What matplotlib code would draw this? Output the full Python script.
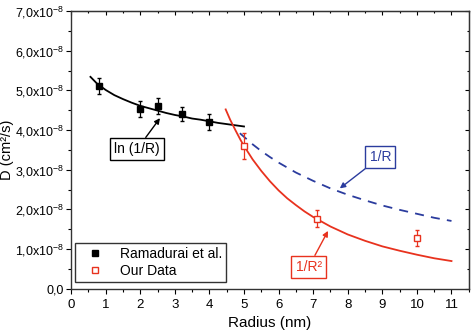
import matplotlib
matplotlib.use("Agg")
import matplotlib.pyplot as plt
from matplotlib.lines import Line2D
from matplotlib.ticker import MultipleLocator, FuncFormatter

plt.rcParams['font.family'] = ['Liberation Sans', 'DejaVu Sans']

# Ramadurai et al. (black squares), D in units of 1e-8 cm^2/s
ram_r = [0.8, 2.0, 2.5, 3.2, 4.0]
ram_d = [5.12, 4.52, 4.61, 4.40, 4.21]
ram_err = [0.2, 0.2, 0.2, 0.18, 0.2]

# our data (open red squares)
our_r = [5.0, 7.1, 10.0]
our_d = [3.60, 1.77, 1.28]
our_err = [0.32, 0.21, 0.2]

# fit curves
ln_r = [0.56, 0.75, 1.0, 1.25, 1.5, 1.75, 2.0, 2.25, 2.5, 2.75, 3.0, 3.25,
        3.5, 3.75, 4.0, 4.25, 4.5, 4.75, 5.0]
ln_d = [5.34, 5.17, 5.01, 4.88, 4.78, 4.69, 4.61, 4.55, 4.49, 4.43, 4.38,
        4.34, 4.29, 4.26, 4.22, 4.18, 4.15, 4.12, 4.09]

inv_r = [4.88, 5.25, 5.5, 5.75, 6.0, 6.5, 7.0, 7.5, 8.0, 8.5, 9.0, 9.5, 10.0,
         10.5, 11.0]
inv_d = [3.92, 3.64, 3.47, 3.32, 3.18, 2.93, 2.72, 2.53, 2.37, 2.23, 2.10,
         1.99, 1.89, 1.79, 1.71]

inv2_r = [4.47, 4.6, 4.75, 4.9, 5.0, 5.25, 5.5, 5.75, 6.0, 6.25, 6.5, 6.75,
          7.0, 7.5, 8.0, 8.5, 9.0, 9.5, 10.0, 10.5, 11.0]
inv2_d = [4.52, 4.26, 4.00, 3.75, 3.60, 3.26, 2.97, 2.71, 2.48, 2.28, 2.11,
          1.95, 1.81, 1.57, 1.37, 1.21, 1.07, 0.96, 0.86, 0.77, 0.70]

red = '#e8321e'
blue = '#2b3c9e'

fig = plt.figure(figsize=(4.74, 3.32), dpi=100)
ax = fig.add_axes([0.150, 0.130, 0.839, 0.837])

ax.plot(ln_r, ln_d, color='black', lw=1.3)
ax.plot(inv_r, inv_d, color=blue, lw=1.3, ls=(0, (5, 4)))
ax.plot(inv2_r, inv2_d, color=red, lw=1.3)

ax.errorbar(ram_r, ram_d, yerr=ram_err, fmt='s', color='black', ms=5,
            elinewidth=0.9, capsize=1.5)
ax.errorbar(our_r, our_d, yerr=our_err, fmt='s', color=red, mfc='white',
            mec=red, ms=5, mew=1.0, elinewidth=0.9, capsize=1.5)

ax.set_xlim(0, 11.5)
ax.set_ylim(0, 7.0)
ax.xaxis.set_major_locator(MultipleLocator(1))
ax.xaxis.set_minor_locator(MultipleLocator(0.5))
ax.yaxis.set_major_locator(MultipleLocator(1))
ax.yaxis.set_minor_locator(MultipleLocator(0.5))


def yfmt(v, pos):
    if abs(v) < 1e-9:
        return '0,0'
    return ('%.1f' % v).replace('.', ',') + r'x10$^{\mathregular{-8}}$'


ax.yaxis.set_major_formatter(FuncFormatter(yfmt))
ax.tick_params(which='both', direction='out', labelsize=9.5, width=0.8)
ax.tick_params(axis='y', labelsize=9, pad=1.5)
ax.tick_params(which='major', length=3.5)
ax.tick_params(which='minor', length=2)

# inward ticks on top and right
top = ax.secondary_xaxis('top')
top.xaxis.set_major_locator(MultipleLocator(1))
top.xaxis.set_minor_locator(MultipleLocator(0.5))
top.tick_params(which='both', direction='in', labeltop=False, width=0.8)
top.tick_params(which='major', length=3)
top.tick_params(which='minor', length=1.5)
right = ax.secondary_yaxis('right')
right.yaxis.set_major_locator(MultipleLocator(1))
right.yaxis.set_minor_locator(MultipleLocator(0.5))
right.tick_params(which='both', direction='in', labelright=False, width=0.8)
right.tick_params(which='major', length=3)
right.tick_params(which='minor', length=1.5)

for s in ax.spines.values():
    s.set_color('#333333')
    s.set_linewidth(1.0)

ax.set_xlabel('Radius (nm)', fontsize=11, labelpad=4)
ax.set_ylabel('D (cm²/s)', fontsize=10.5)
ax.yaxis.set_label_coords(-0.143, 0.5)

ax.annotate('ln (1/R)', xy=(2.57, 4.30), xytext=(1.91, 3.52), fontsize=10,
            ha='center', va='center',
            bbox=dict(boxstyle='square,pad=0.3', fc='white', ec='black', lw=1.0),
            arrowprops=dict(arrowstyle='-|>', color='black', lw=1.0,
                            mutation_scale=8, shrinkA=0, shrinkB=0))
ax.annotate('1/R', xy=(7.77, 2.53), xytext=(8.94, 3.32), fontsize=10,
            color=blue, ha='center', va='center',
            bbox=dict(boxstyle='square,pad=0.3', fc='white', ec=blue, lw=1.0),
            arrowprops=dict(arrowstyle='-|>', color=blue, lw=1.0,
                            mutation_scale=8, shrinkA=0, shrinkB=0))
ax.annotate('1/R²', xy=(7.43, 1.46), xytext=(6.87, 0.55), fontsize=10,
            color=red, ha='center', va='center',
            bbox=dict(boxstyle='square,pad=0.3', fc='white', ec=red, lw=1.0),
            arrowprops=dict(arrowstyle='-|>', color=red, lw=1.0,
                            mutation_scale=8, shrinkA=0, shrinkB=0))

handles = [
    Line2D([], [], ls='none', marker='s', color='black', ms=4),
    Line2D([], [], ls='none', marker='s', mfc='white', mec=red, mew=1.0, ms=4),
]
leg = ax.legend(handles, ['Ramadurai et al.', 'Our Data'], loc='lower left',
                bbox_to_anchor=(0.01, 0.025), borderaxespad=0, fontsize=10,
                frameon=True, fancybox=False, edgecolor='black',
                handlelength=2.2, borderpad=0.3, labelspacing=0.2,
                handletextpad=0.7)
leg.get_frame().set_linewidth(1.0)

fig.savefig('out.png', dpi=100)
